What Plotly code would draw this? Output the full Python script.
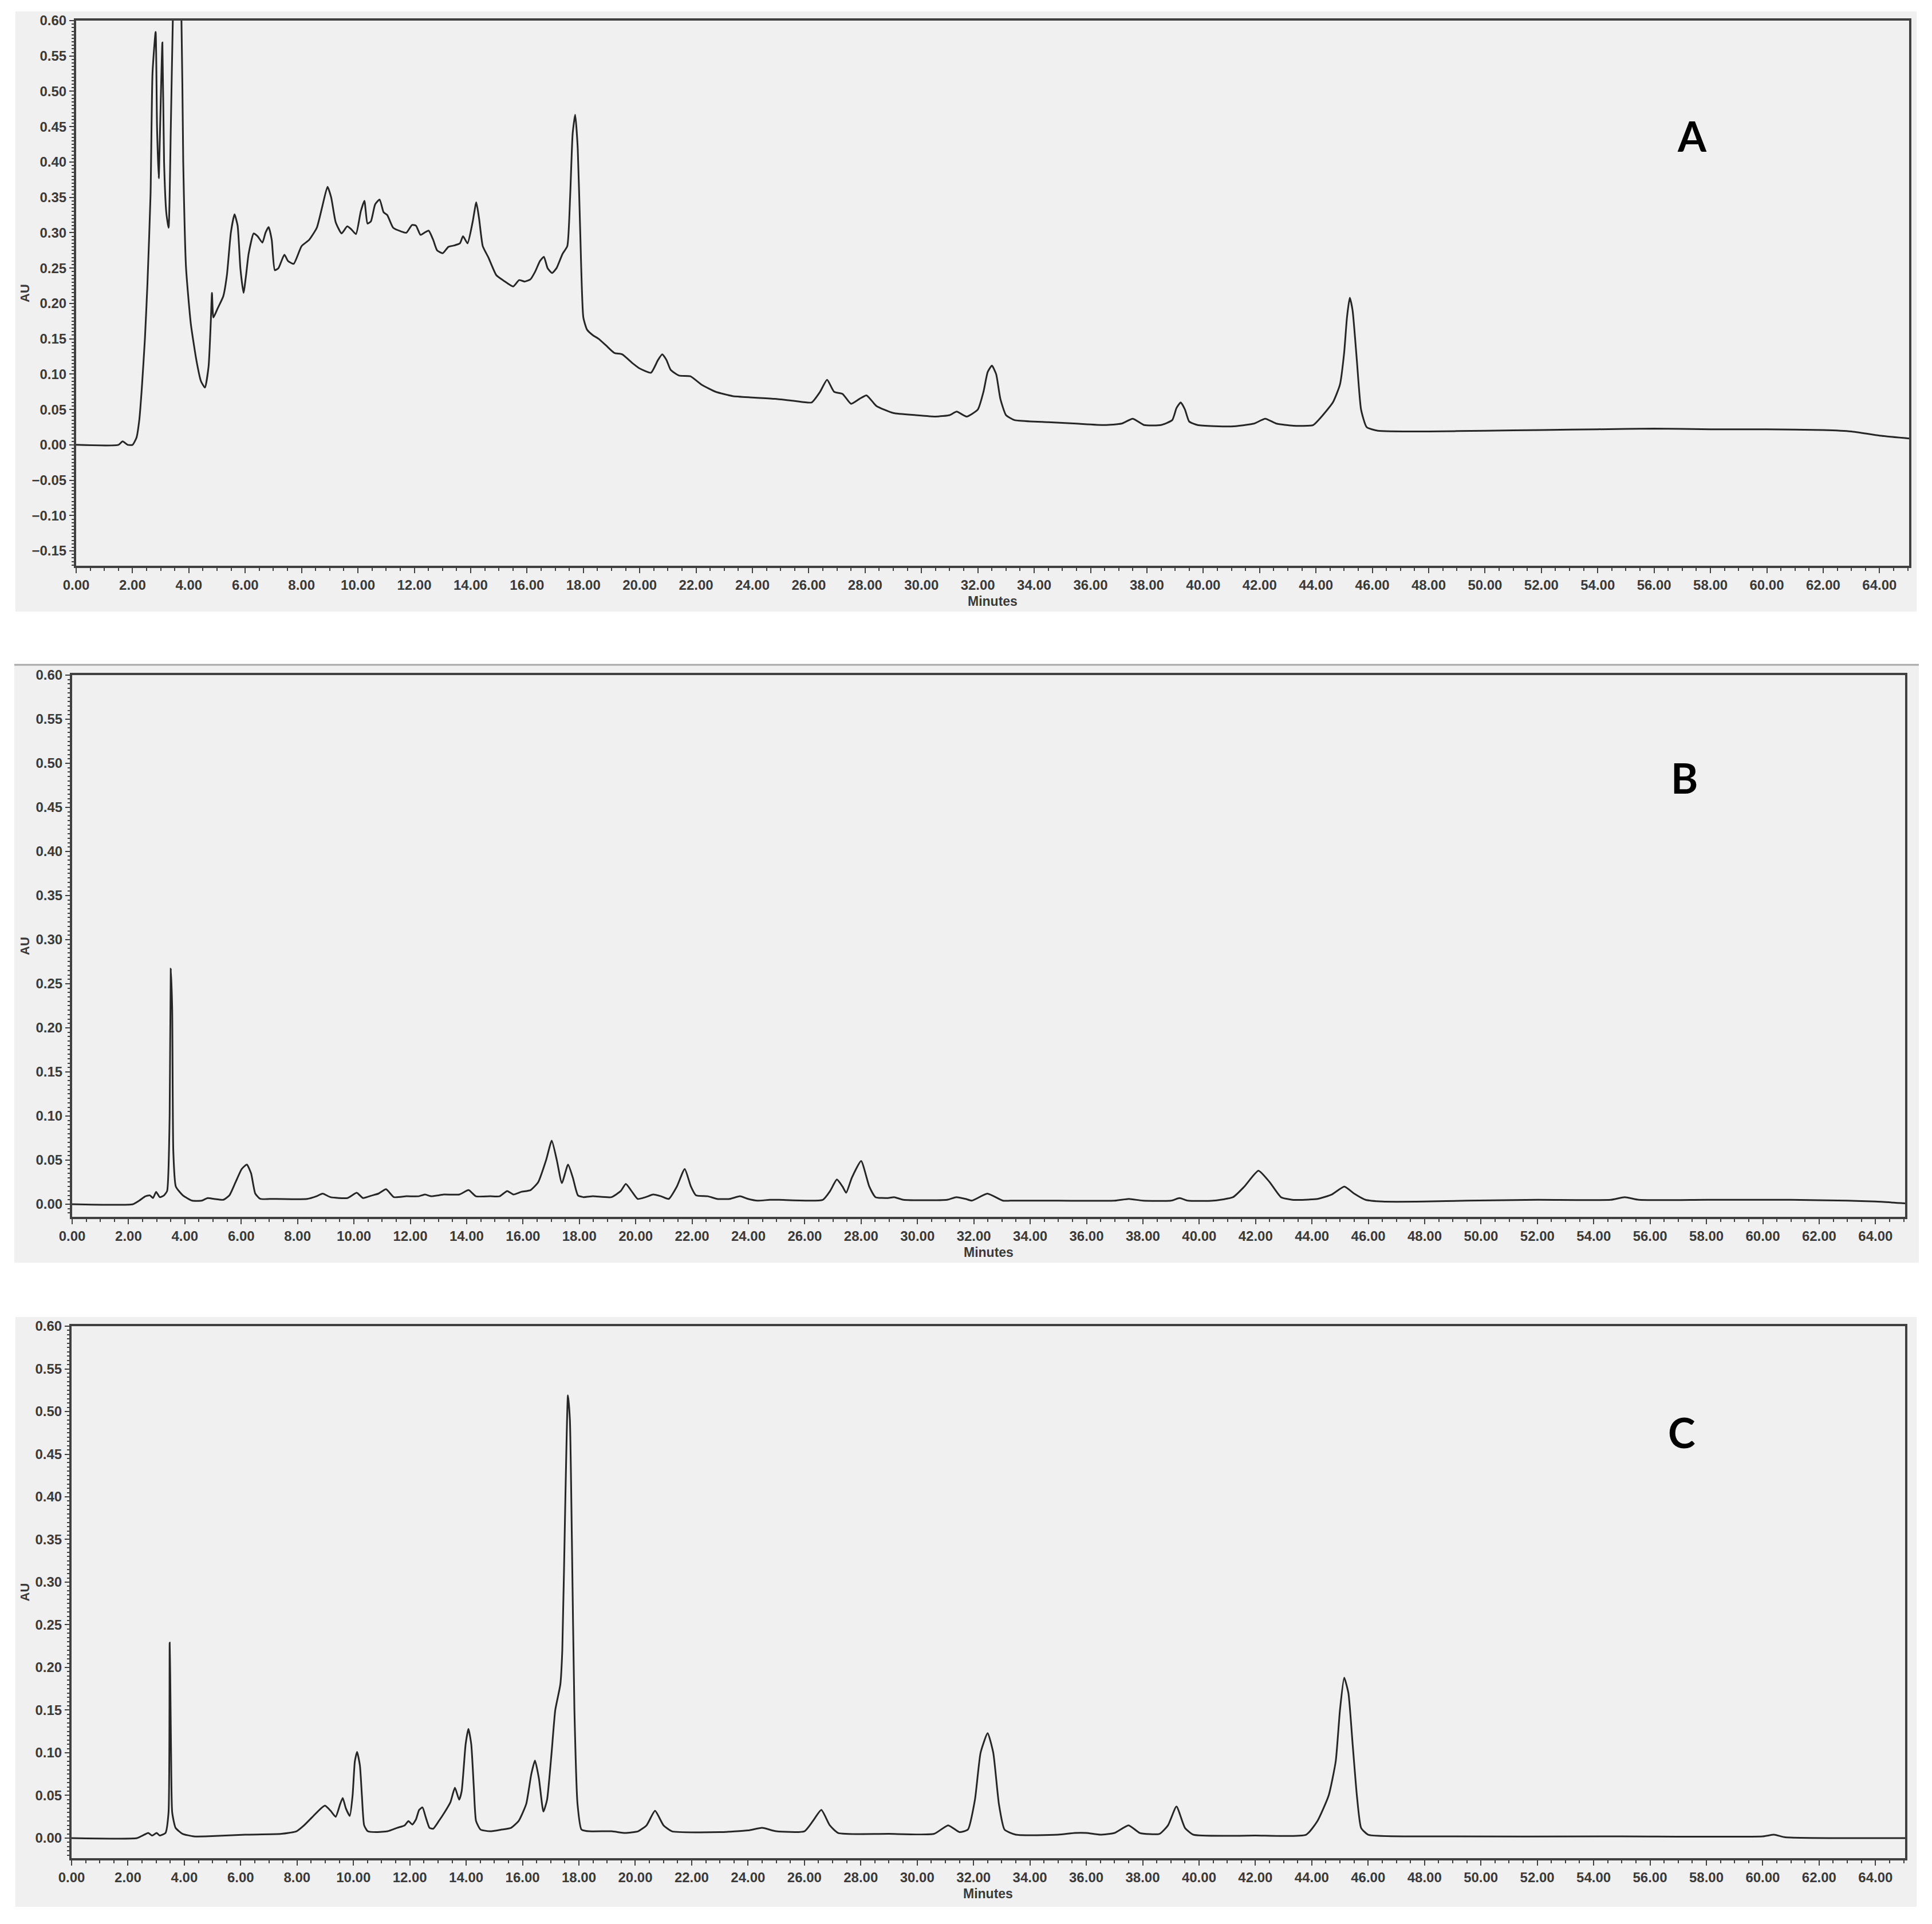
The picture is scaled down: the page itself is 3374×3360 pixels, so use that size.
import plotly.graph_objects as go

# ---------------- data (retention time in minutes, absorbance in AU) ----------------
A_time = [0.0, 1.5, 1.65, 1.83, 2.0, 2.14, 2.24, 2.33, 2.44, 2.53, 2.64, 2.71, 2.82, 2.87, 2.93, 2.98,
          3.06, 3.12, 3.2, 3.28, 3.36, 3.44, 3.55, 3.73, 3.8, 3.9, 4.07, 4.27, 4.43, 4.57, 4.7, 4.78,
          4.82, 4.87, 5.01, 5.22, 5.35, 5.49, 5.62, 5.73, 5.83, 5.94, 6.03, 6.12, 6.3, 6.44, 6.61, 6.72,
          6.83, 6.94, 7.05, 7.18, 7.39, 7.52, 7.72, 8.0, 8.27, 8.54, 8.74, 8.92, 9.05, 9.21, 9.42, 9.62,
          9.76, 9.93, 10.1, 10.23, 10.34, 10.46, 10.61, 10.77, 10.91, 11.04, 11.25, 11.52, 11.72, 11.92,
          12.06, 12.22, 12.36, 12.51, 12.67, 12.81, 13.01, 13.21, 13.42, 13.62, 13.73, 13.89, 14.07, 14.2,
          14.3, 14.43, 14.63, 14.91, 15.18, 15.51, 15.72, 15.92, 16.12, 16.29, 16.46, 16.6, 16.73, 16.89,
          17.05, 17.26, 17.43, 17.53, 17.62, 17.71, 17.8, 17.89, 18.0, 18.13, 18.34, 18.54, 18.82, 19.1,
          19.38, 19.76, 20.0, 20.4, 20.65, 20.8, 20.95, 21.1, 21.4, 21.8, 22.2, 22.7, 23.3, 24.0, 24.8, 25.5, 26.1,
          26.4, 26.65, 26.9, 27.2, 27.5, 27.8, 28.05, 28.4, 29.0, 29.8, 30.5, 31.0, 31.25, 31.6, 32.0,
          32.2, 32.35, 32.5, 32.65, 32.8, 33.0, 33.3, 34.5, 35.5, 36.5, 37.1, 37.5, 37.9, 38.5, 38.9, 39.05, 39.2, 39.35, 39.5,
          39.8, 41.0, 41.8, 42.2, 42.6, 43.2, 43.9, 44.2, 44.6, 44.85, 45.0, 45.1, 45.2, 45.3, 45.45, 45.6, 45.8,
          46.2, 48.0, 50.0, 52.0, 54.0, 56.0, 58.0, 60.0, 62.0, 63.0, 64.0, 65.05]
A_au = [0.0, 0.0, 0.005, 0.0, 0.0, 0.01, 0.035, 0.08, 0.15, 0.228, 0.354, 0.526, 0.584, 0.45, 0.377, 0.45,
        0.569, 0.40, 0.328, 0.307, 0.45, 0.62, 0.75, 0.62, 0.40, 0.25, 0.171, 0.119, 0.09, 0.081, 0.111, 0.176,
        0.215, 0.18, 0.192, 0.21, 0.24, 0.30, 0.326, 0.31, 0.249, 0.215, 0.24, 0.27, 0.299, 0.295, 0.286, 0.30,
        0.308, 0.29, 0.247, 0.25, 0.269, 0.26, 0.256, 0.281, 0.29, 0.307, 0.338, 0.365, 0.35, 0.315, 0.299, 0.309,
        0.305, 0.298, 0.33, 0.345, 0.313, 0.316, 0.34, 0.347, 0.329, 0.325, 0.307, 0.302, 0.30, 0.311,
        0.31, 0.297, 0.30, 0.303, 0.29, 0.275, 0.271, 0.28, 0.282, 0.285, 0.295, 0.285, 0.315, 0.343,
        0.32, 0.281, 0.265, 0.24, 0.232, 0.224, 0.233, 0.231, 0.234, 0.245, 0.26, 0.266, 0.25, 0.243,
        0.25, 0.27, 0.281, 0.35, 0.44, 0.467, 0.42, 0.30, 0.18, 0.163, 0.155, 0.15, 0.14, 0.13,
        0.128, 0.115, 0.108, 0.102, 0.12, 0.128, 0.12, 0.106, 0.098, 0.097, 0.085, 0.075, 0.069, 0.067, 0.065, 0.062, 0.06,
        0.075, 0.092, 0.075, 0.072, 0.058, 0.065, 0.07, 0.055, 0.045, 0.042, 0.04, 0.042, 0.047, 0.04, 0.05,
        0.075, 0.103, 0.112, 0.1, 0.065, 0.042, 0.035, 0.032, 0.03, 0.028, 0.03, 0.037, 0.028, 0.028, 0.035, 0.052, 0.06, 0.05, 0.033,
        0.028, 0.026, 0.03, 0.037, 0.03, 0.027, 0.028, 0.04, 0.06, 0.085, 0.13, 0.18, 0.208, 0.19, 0.12, 0.05, 0.025,
        0.02, 0.019, 0.02, 0.021, 0.022, 0.023, 0.022, 0.022, 0.021, 0.019, 0.013, 0.009]

B_time = [0.0, 2.16, 2.38, 2.6, 2.76, 2.87, 2.98, 3.11, 3.26, 3.37, 3.46, 3.5, 3.55, 3.59, 3.68, 3.93,
          4.26, 4.59, 4.81, 5.03, 5.36, 5.58, 5.8, 6.02, 6.2, 6.35, 6.5, 6.68, 7.01, 8.34, 8.67, 8.89,
          9.17, 9.77, 10.1, 10.32, 10.65, 10.87, 11.14, 11.42, 11.86, 12.3, 12.52, 12.75, 13.19, 13.74,
          14.07, 14.33, 14.84, 15.17, 15.44, 15.66, 15.94, 16.27, 16.54, 16.82, 17.02, 17.2, 17.38, 17.6,
          17.77, 17.95, 18.15, 18.48, 19.14, 19.47, 19.65, 19.85, 20.07, 20.35, 20.62, 20.9, 21.17, 21.46,
          21.74, 21.96, 22.14, 22.56, 22.89, 23.33, 23.7, 23.99, 24.32, 24.76, 25.09, 26.64, 26.9, 27.14,
          27.34, 27.47, 27.67, 28.0, 28.29, 28.51, 28.95, 29.17, 29.5, 31.05, 31.38, 31.71, 31.93, 32.48,
          33.03, 33.3, 35.0, 37.0, 37.5, 38.0, 39.0, 39.3, 39.6, 40.5, 41.2, 41.6, 42.1, 42.5, 42.9, 43.3,
          44.2, 44.7, 45.15, 45.5, 45.9, 46.5, 48.0, 49.5, 52.0, 54.6, 55.1, 55.6, 58.0, 61.0, 63.0, 64.0, 65.05]
B_au = [0.0, 0.0, 0.004, 0.009, 0.01, 0.007, 0.014, 0.008, 0.01, 0.015, 0.1, 0.267, 0.222, 0.06, 0.02, 0.01,
        0.004, 0.004, 0.007, 0.006, 0.005, 0.01, 0.025, 0.04, 0.045, 0.035, 0.012, 0.006, 0.006, 0.006, 0.009, 0.012,
        0.008, 0.007, 0.013, 0.007, 0.01, 0.012, 0.017, 0.008, 0.009, 0.009, 0.011, 0.009, 0.011, 0.011,
        0.016, 0.009, 0.009, 0.009, 0.015, 0.011, 0.014, 0.016, 0.025, 0.05, 0.072, 0.05, 0.024, 0.045,
        0.03, 0.01, 0.008, 0.009, 0.008, 0.015, 0.023, 0.015, 0.006, 0.008, 0.011, 0.009, 0.006, 0.02,
        0.04, 0.02, 0.01, 0.009, 0.006, 0.006, 0.009, 0.006, 0.004, 0.005, 0.005, 0.005, 0.015, 0.028,
        0.02, 0.013, 0.03, 0.049, 0.02, 0.008, 0.007, 0.008, 0.005, 0.005, 0.008, 0.006, 0.004, 0.012,
        0.004, 0.004, 0.004, 0.004, 0.006, 0.004, 0.004, 0.007, 0.004, 0.004, 0.008, 0.02, 0.038, 0.025, 0.008, 0.005,
        0.006, 0.011, 0.02, 0.012, 0.005, 0.003, 0.003, 0.004, 0.005, 0.005, 0.008, 0.005, 0.005, 0.005, 0.004, 0.003, 0.001]

C_time = [0.0, 2.32, 2.52, 2.72, 2.86, 3.02, 3.13, 3.33, 3.44, 3.48, 3.5, 3.53, 3.57, 3.69, 3.94, 4.34,
          4.74, 6.16, 7.44, 7.98, 8.25, 8.58, 8.79, 8.99, 9.19, 9.37, 9.53, 9.62, 9.73, 9.87, 9.97, 10.05,
          10.13, 10.23, 10.3, 10.38, 10.51, 10.81, 11.21, 11.55, 11.82, 11.95, 12.09, 12.22, 12.33, 12.45,
          12.56, 12.7, 12.83, 13.03, 13.23, 13.44, 13.6, 13.75, 13.84, 13.98, 14.08, 14.18, 14.27, 14.35,
          14.51, 14.85, 15.26, 15.59, 15.86, 16.13, 16.31, 16.44, 16.58, 16.74, 16.87, 17.03, 17.16, 17.34,
          17.41, 17.52, 17.61, 17.68, 17.75, 17.84, 17.95, 18.09, 18.36, 19.16, 19.64, 20.1, 20.4, 20.7,
          21.0, 21.3, 23.0, 24.0, 24.5, 25.0, 26.0, 26.3, 26.6, 26.9, 27.2, 29.0, 30.6, 31.1, 31.5, 31.8,
          32.05, 32.25, 32.5, 32.7, 32.9, 33.1, 33.5, 35.0, 35.6, 36.0, 36.5, 37.0, 37.5, 37.9, 38.6, 38.9, 39.2, 39.5,
          39.8, 42.0, 43.8, 44.2, 44.6, 44.85, 45.0, 45.15, 45.3, 45.45, 45.6, 45.75, 46.0, 48.0, 55.0, 60.0, 60.4, 60.8, 65.05]
C_au = [0.0, 0.0, 0.003, 0.006, 0.003, 0.006, 0.003, 0.006, 0.03, 0.229, 0.19, 0.1, 0.03, 0.012, 0.005, 0.002,
        0.002, 0.004, 0.005, 0.008, 0.015, 0.026, 0.033, 0.038, 0.032, 0.025, 0.04, 0.047, 0.035, 0.026, 0.05, 0.09,
        0.101, 0.085, 0.05, 0.015, 0.008, 0.007, 0.008, 0.012, 0.015, 0.02, 0.016, 0.022, 0.033, 0.036,
        0.025, 0.012, 0.011, 0.02, 0.03, 0.042, 0.059, 0.045, 0.055, 0.11, 0.128, 0.11, 0.06, 0.02,
        0.01, 0.008, 0.01, 0.012, 0.02, 0.04, 0.075, 0.091, 0.07, 0.031, 0.045, 0.1, 0.15, 0.18,
        0.22, 0.40, 0.519, 0.49, 0.35, 0.15, 0.04, 0.01, 0.008, 0.008, 0.006, 0.008, 0.015, 0.032,
        0.015, 0.008, 0.007, 0.009, 0.012, 0.008, 0.008, 0.02, 0.033, 0.015, 0.006, 0.005, 0.005, 0.015, 0.007, 0.01,
        0.045, 0.1, 0.123, 0.1, 0.04, 0.01, 0.004, 0.004, 0.006, 0.006, 0.004, 0.006, 0.015, 0.006, 0.005, 0.015, 0.037, 0.012,
        0.004, 0.003, 0.004, 0.02, 0.05, 0.09, 0.15, 0.188, 0.17, 0.11, 0.05, 0.012, 0.004, 0.002, 0.002, 0.002, 0.004, 0.001, 0.0]

panel_labels = ["A", "B", "C"]
x_tick_values = list(range(0, 65, 2))
x_tick_labels = ["%.2f" % v for v in x_tick_values]
y_ranges = [[-0.171, 0.60], [-0.0143, 0.60], [-0.0235, 0.60]]
y_tick_starts = [-0.15, 0.0, 0.0]

# ---------------- layout geometry (pixels of the 3374 x 3360 page) ----------------
W, H = 3374, 3360
def px(x):
    return x / W
def py(y):
    return 1 - y / H

plot_boxes = [  # left, right, top, bottom (px)
    (133, 3334, 36, 988),
    (126, 3327, 1179, 2125),
    (125, 3327, 2316, 3245),
]
bg_boxes = [
    (27, 3347, 20, 1068),
    (25, 3351, 1161, 2205),
    (27, 3347, 2300, 3330),
]
letter_pos = [(2955, 237), (2941, 1358), (2937, 2501)]

AXIS_COL = "#404040"
TEXT_FONT = "Liberation Sans, Arial, sans-serif"
TICK_FONT = dict(family=TEXT_FONT, size=24, color="#3a3a3a", weight="bold")
BG = "#f0f0f0"

fig = go.Figure()
series = [(A_time, A_au), (B_time, B_au), (C_time, C_au)]
for i, (t, v) in enumerate(series):
    n = "" if i == 0 else str(i + 1)
    fig.add_trace(go.Scatter(x=t, y=v, mode="lines", xaxis="x" + n, yaxis="y" + n,
                             line=dict(color="#262626", width=3, shape="spline", smoothing=0.5),
                             showlegend=False, hoverinfo="skip"))

layout = dict(width=W, height=H, margin=dict(l=0, r=0, t=0, b=0, pad=0), autosize=False,
              paper_bgcolor="white", plot_bgcolor=BG, showlegend=False)

shapes = []
annotations = []
for i in range(3):
    n = "" if i == 0 else str(i + 1)
    l, r, t, b = plot_boxes[i]
    yr = y_ranges[i]
    layout["xaxis" + n] = dict(
        domain=[px(l), px(r)], anchor="y" + n, range=[0, 65.05], automargin=False,
        tickmode="array", tickvals=x_tick_values, ticktext=x_tick_labels,
        ticks="outside", ticklen=9, tickwidth=2, tickcolor=AXIS_COL,
        minor=dict(dtick=0.5, tick0=0, ticks="outside", ticklen=5, tickwidth=2, tickcolor=AXIS_COL),
        showline=True, linecolor=AXIS_COL, linewidth=4, mirror=True,
        showgrid=False, zeroline=False, tickfont=TICK_FONT, fixedrange=True)
    layout["yaxis" + n] = dict(
        domain=[py(b), py(t)], anchor="x" + n, range=yr, automargin=False,
        tick0=y_tick_starts[i], dtick=0.05, tickformat=".2f",
        ticks="outside", ticklen=8, tickwidth=2, tickcolor=AXIS_COL,
        minor=dict(dtick=0.005, tick0=0, ticks="outside", ticklen=4, tickwidth=1.5, tickcolor=AXIS_COL),
        showline=True, linecolor=AXIS_COL, linewidth=4, mirror=True,
        showgrid=False, zeroline=False, tickfont=TICK_FONT, fixedrange=True)
    bl, br, bt, bb = bg_boxes[i]
    shapes.append(dict(type="rect", xref="paper", yref="paper", x0=px(bl), x1=px(br),
                       y0=py(bb), y1=py(bt), fillcolor=BG, line=dict(width=0), layer="below"))
    annotations.append(dict(text="AU", xref="paper", yref="paper", x=px(43), y=py((t + b) / 2),
                            showarrow=False, textangle=-90, xanchor="center", yanchor="middle",
                            font=dict(family=TEXT_FONT, size=22, color="#3a3a3a", weight="bold")))
    annotations.append(dict(text="Minutes", xref="paper", yref="paper", x=px((l + r) / 2), y=py(b + 62),
                            showarrow=False, xanchor="center", yanchor="middle",
                            font=dict(family=TEXT_FONT, size=23, color="#3a3a3a", weight="bold")))
    lx, ly = letter_pos[i]
    annotations.append(dict(text="<b>%s</b>" % panel_labels[i], xref="paper", yref="paper",
                            x=px(lx), y=py(ly), showarrow=False, xanchor="center", yanchor="middle",
                            font=dict(family="Lato, Open Sans, sans-serif", size=72, color="black")))

shapes.append(dict(type="line", xref="paper", yref="paper", x0=px(25), x1=px(3351),
                   y0=py(1161), y1=py(1161), line=dict(color="#a8a8a8", width=3), layer="above"))

layout["shapes"] = shapes
layout["annotations"] = annotations
fig.update_layout(**layout)
fig.write_html("out.html", config={"displayModeBar": False},
               post_script="document.body.style.margin='0';document.body.style.overflow='hidden';")
